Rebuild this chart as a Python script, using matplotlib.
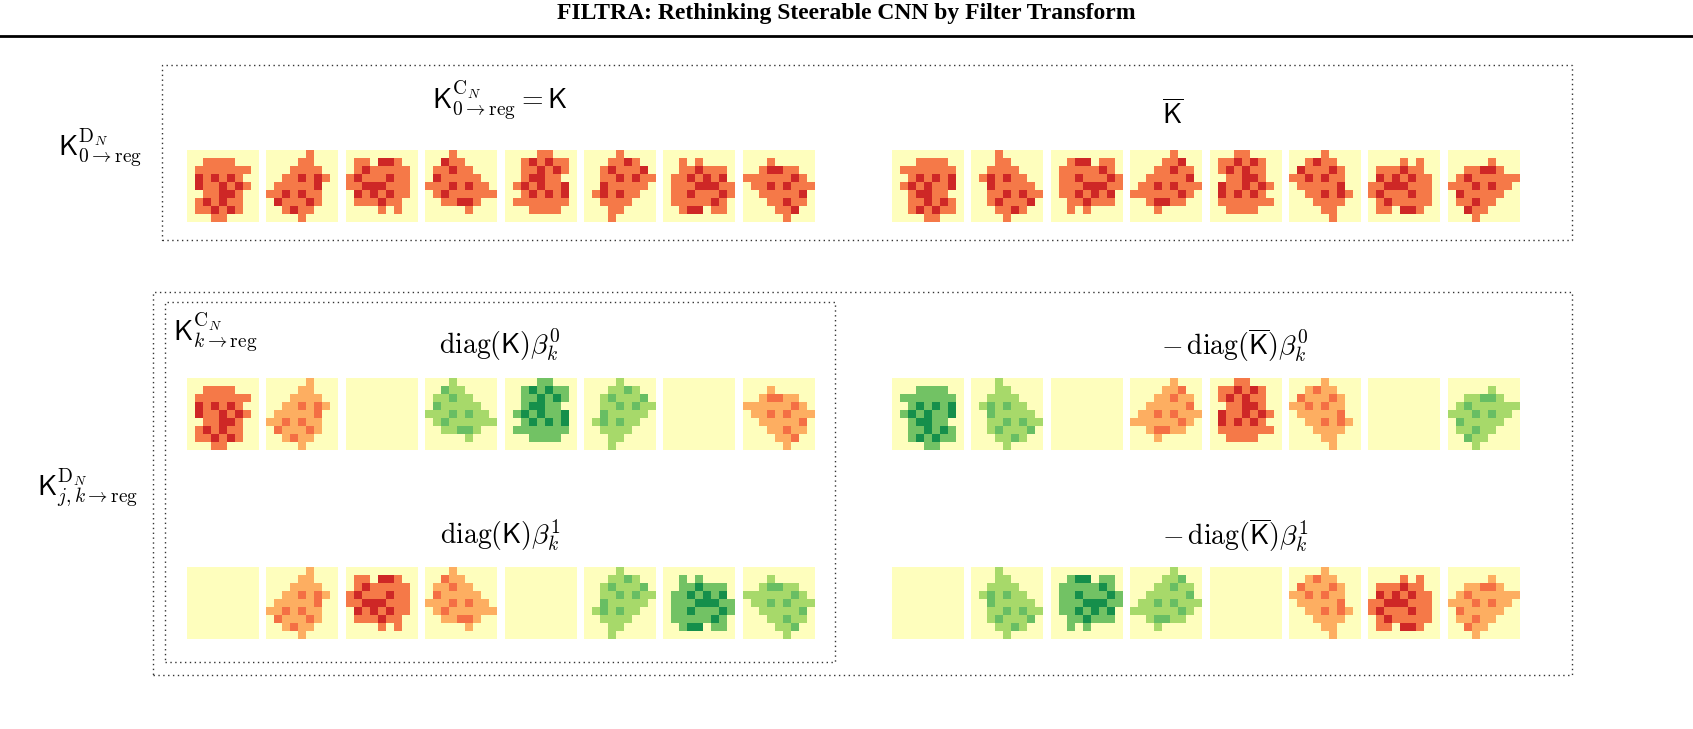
import numpy as np
import matplotlib
matplotlib.use("Agg")
import matplotlib.pyplot as plt
from matplotlib.patches import Rectangle
from matplotlib.lines import Line2D

plt.rcParams['mathtext.fontset'] = 'cm'

# base kernel (upright) and its 45-degree-rotated sample, 9x9
kernel_a = [
    [0,0,0,0,0,0,0,0,0],
    [0,0,1,1,1,1,0,0,0],
    [0,1,1,1,1,1,1,1,0],
    [0,1.5,1,1.5,1,1.5,1,0,0],
    [0,1.5,1,1,1.5,1,1.5,1,0],
    [0,0,1,1,1.5,1.5,1,0,0],
    [0,1,1.5,1,1.5,1,1,0,0],
    [0,1,1,1.5,1,1.5,1,0,0],
    [0,0,0,1,1,0,0,0,0],
]
kernel_b = [
    [0,0,0,0,0,1,0,0,0],
    [0,0,0,0,1,1,0,0,0],
    [0,0,0,1,1,1,1,0,0],
    [0,0,1,1,1.5,1,1.5,1,0],
    [0,1,1,1,1,1,1.5,0,0],
    [1,1,1.5,1,1.5,1,1,0,0],
    [0,1.5,1,1,1,1.5,1,0,0],
    [0,0,1,1.5,1,1,0,0,0],
    [0,0,0,0,1,0,0,0,0],
]
beta0 = [1, 0.707, 0, -0.707, -1, -0.707, 0, 0.707]
beta1 = [0, 0.707, 1, 0.707, 0, -0.707, -1, -0.707]

A = np.array(kernel_a, float); B = np.array(kernel_b, float)
K = [np.rot90(A if n % 2 == 0 else B, -(n // 2)) for n in range(8)]
Kbar = [np.fliplr(k) for k in K]

W, H = 1693, 729
fig = plt.figure(figsize=(W/100, H/100), dpi=100)
cmap = plt.get_cmap('RdYlGn_r')

def tile(x, y, img):
    ax = fig.add_axes([x/W, 1-(y+72)/H, 72/W, 72/H])
    ax.imshow(img, cmap=cmap, vmin=-1.8, vmax=1.8, interpolation='nearest')
    ax.axis('off')

def box(x0, y0, x1, y1):
    fig.patches.append(Rectangle((x0/W, 1-y1/H), (x1-x0)/W, (y1-y0)/H,
                       transform=fig.transFigure, fill=False, ls=(0,(1,2.5)), lw=1, ec='#333'))

def txt(x, y, s, size=20):
    fig.text(x/W, 1-y/H, s, fontsize=size, ha='center', va='center')

xl = [187 + 79.4*i for i in range(8)]
xr = [892 + 79.4*i for i in range(8)]
for i in range(8):
    tile(xl[i], 150, K[i])
    tile(xr[i], 150, Kbar[i])
    tile(xl[i], 378, K[i]*beta0[i])
    tile(xr[i], 378, -Kbar[i]*beta0[i])
    tile(xl[i], 567, K[i]*beta1[i])
    tile(xr[i], 567, -Kbar[i]*beta1[i])

fig.text(0.5, 1-14/H, 'FILTRA: Rethinking Steerable CNN by Filter Transform',
         fontsize=17, fontweight='bold', family='Liberation Serif', ha='center', va='center')
fig.add_artist(Line2D([0, 1], [1-36/H, 1-36/H], color='k', lw=2, transform=fig.transFigure))

box(162, 65, 1572, 240)
box(153, 292, 1572, 675)
box(165, 302, 835, 662)

txt(500, 100, r'$\mathsf{K}^{\mathrm{C}_N}_{0\to\mathrm{reg}}=\mathsf{K}$')
txt(1173, 115, r'$\overline{\mathsf{K}}$')
txt(100, 148, r'$\mathsf{K}^{\mathrm{D}_N}_{0\to\mathrm{reg}}$')
txt(88, 488, r'$\mathsf{K}^{\mathrm{D}_N}_{j,k\to\mathrm{reg}}$')
txt(215, 332, r'$\mathsf{K}^{\mathrm{C}_N}_{k\to\mathrm{reg}}$')
txt(500, 345, r'$\mathrm{diag}(\mathsf{K})\beta^0_k$')
txt(1235, 345, r'$-\,\mathrm{diag}(\overline{\mathsf{K}})\beta^0_k$')
txt(500, 535, r'$\mathrm{diag}(\mathsf{K})\beta^1_k$')
txt(1235, 535, r'$-\,\mathrm{diag}(\overline{\mathsf{K}})\beta^1_k$')

fig.savefig('out.png', dpi=100)
